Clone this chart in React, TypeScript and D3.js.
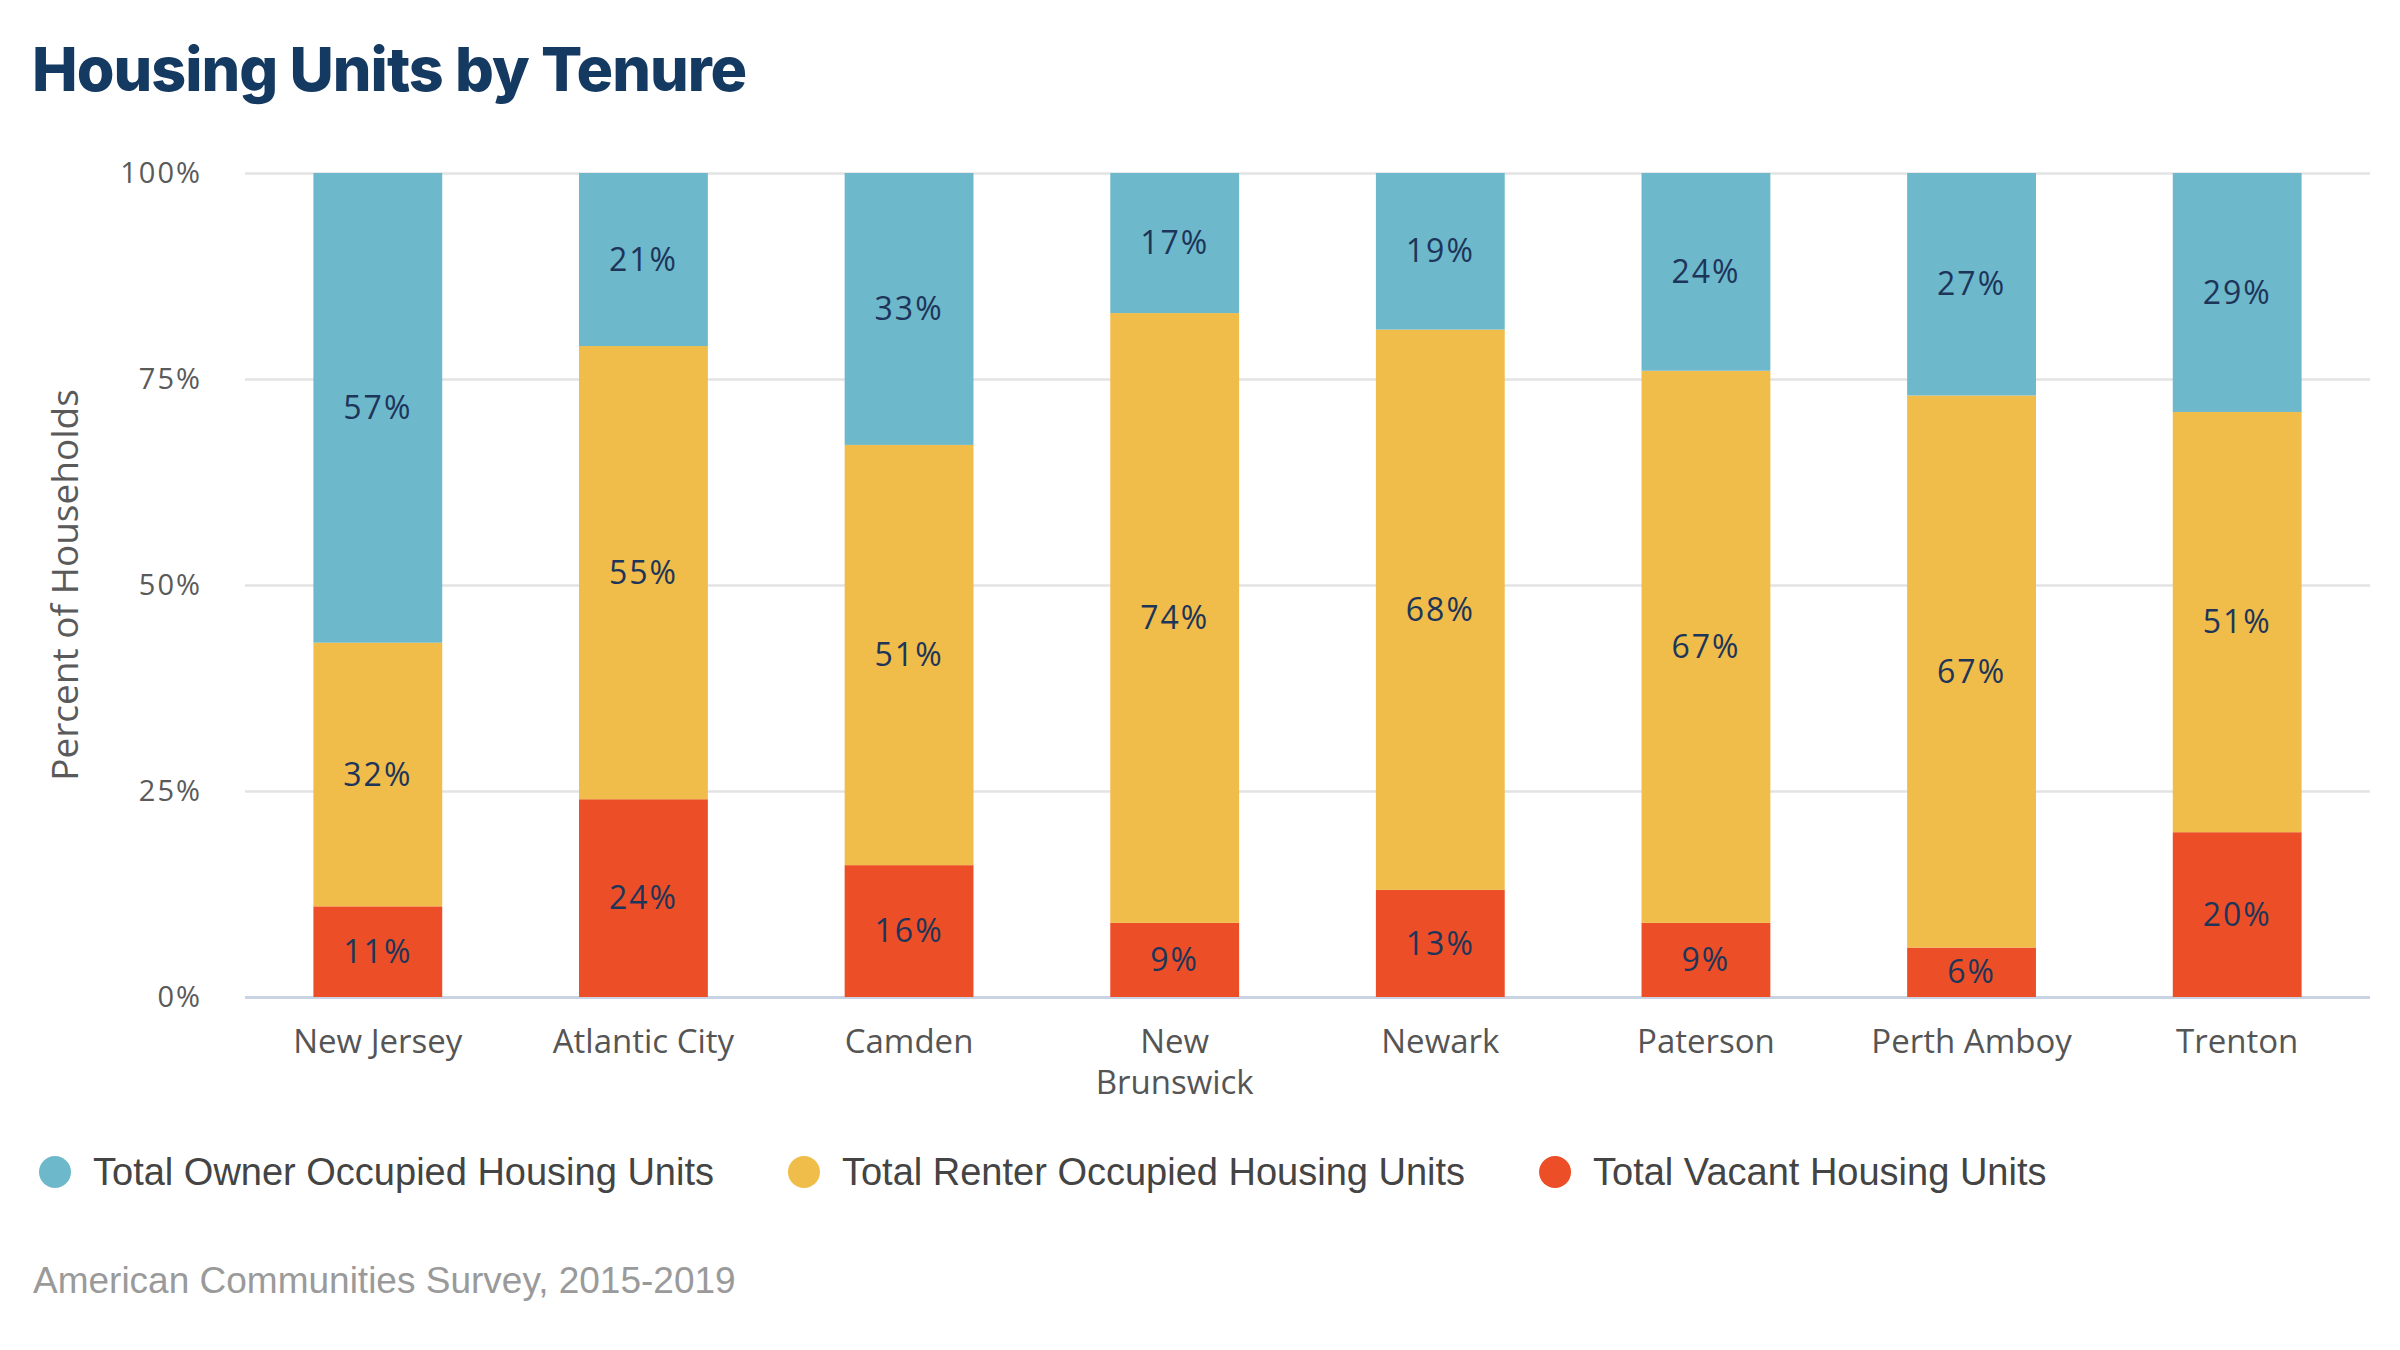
import React, { useEffect, useRef } from 'react';
import * as d3 from 'd3';

// Share of housing units by tenure, percent of all units
const categories = ['New Jersey', 'Atlantic City', 'Camden', 'New Brunswick', 'Newark', 'Paterson', 'Perth Amboy', 'Trenton'];
const categoryLines = [['New Jersey'], ['Atlantic City'], ['Camden'], ['New', 'Brunswick'], ['Newark'], ['Paterson'], ['Perth Amboy'], ['Trenton']];
const vacant = [11, 24, 16, 9, 13, 9, 6, 20];
const renter = [32, 55, 51, 74, 68, 67, 67, 51];
const owner = [57, 21, 33, 17, 19, 24, 27, 29];
const seriesKeys = ['vacant', 'renter', 'owner'];
const legendKeys = ['owner', 'renter', 'vacant'];
const seriesNames: Record<string, string> = {
  owner: 'Total Owner Occupied Housing Units',
  renter: 'Total Renter Occupied Housing Units',
  vacant: 'Total Vacant Housing Units',
};
const yTicks = [0, 25, 50, 75, 100];

const colors: Record<string, string> = {
  owner: '#6eb8cc',
  renter: '#f0bc4a',
  vacant: '#ec4f27',
};

const W = 2400;
const H = 1350;

const App: React.FC = () => {
  const svgRef = useRef<SVGSVGElement | null>(null);

  useEffect(() => {
    if (!svgRef.current) return;
    const svg = d3.select(svgRef.current);
    svg.selectAll('*').remove();

    const plot = { left: 245, right: 2370, top: 173, bottom: 997 };

    const rows = categories.map((c, i) => ({ category: c, vacant: vacant[i], renter: renter[i], owner: owner[i] }));
    const stacked = d3.stack<any>().keys(seriesKeys)(rows);

    const x = d3.scaleBand<string>()
      .domain(categories)
      .range([plot.left, plot.right])
      .paddingInner(0.515)
      .paddingOuter(0.2575);

    const y = d3.scaleLinear().domain([0, 100]).range([plot.bottom, plot.top]);

    // Title
    svg.append('text')
      .attr('x', 32)
      .attr('y', 91)
      .text('Housing Units by Tenure')
      .attr('fill', '#153a62')
      .style('font-family', 'Inter, Lato, sans-serif')
      .style('font-weight', 800)
      .style('font-size', '61px')
      .style('letter-spacing', '-1px');

    // Gridlines + y tick labels
    const yAxis = d3.axisLeft(y)
      .tickValues(yTicks)
      .tickFormat(d => `${d}%`)
      .tickSize(-(plot.right - plot.left))
      .tickPadding(43);

    const yg = svg.append('g')
      .attr('transform', `translate(${plot.left},0)`)
      .call(yAxis);
    yg.select('.domain').remove();
    yg.selectAll('.tick line')
      .attr('stroke', (d: any) => (d === 0 ? '#c9d3e4' : '#e3e3e3'))
      .attr('stroke-width', (d: any) => (d === 0 ? 3 : 2.5));
    yg.selectAll('.tick text')
      .attr('fill', '#5a5a5a')
      .style('font-family', '"Open Sans", sans-serif')
      .style('font-size', '29px')
      .style('letter-spacing', '2px');

    // Y title
    svg.append('text')
      .attr('transform', `translate(78,${(plot.top + plot.bottom) / 2}) rotate(-90)`)
      .attr('text-anchor', 'middle')
      .text('Percent of Households')
      .attr('fill', '#5a5a5a')
      .style('font-family', '"Open Sans", sans-serif')
      .style('font-size', '37px');

    // Stacked bars
    const layers = svg.append('g')
      .selectAll('g.layer')
      .data(stacked)
      .enter()
      .append('g')
      .attr('class', 'layer')
      .attr('fill', d => colors[d.key]);

    layers.selectAll('rect')
      .data(d => d)
      .enter()
      .append('rect')
      .attr('x', d => x(d.data.category) as number)
      .attr('width', x.bandwidth())
      .attr('y', d => y(d[1]))
      .attr('height', d => y(d[0]) - y(d[1]));

    layers.selectAll('text')
      .data(d => d.map(v => ({ v, key: d.key })))
      .enter()
      .append('text')
      .attr('x', d => (x(d.v.data.category) as number) + x.bandwidth() / 2)
      .attr('y', d => (y(d.v[0]) + y(d.v[1])) / 2)
      .attr('dy', '0.35em')
      .attr('text-anchor', 'middle')
      .attr('fill', '#1d3559')
      .text(d => `${d.v.data[d.key]}%`)
      .style('font-family', '"Open Sans", sans-serif')
      .style('font-size', '32px')
      .style('letter-spacing', '2px');

    // Category labels
    const xg = svg.append('g');
    categories.forEach((c, i) => {
      const t = xg.append('text')
        .attr('x', (x(c) as number) + x.bandwidth() / 2)
        .attr('y', 1041)
        .attr('text-anchor', 'middle')
        .attr('fill', '#555')
        .style('font-family', '"Open Sans", sans-serif')
        .style('font-size', '33px');
      categoryLines[i].forEach((line, j) => {
        t.append('tspan')
          .attr('x', (x(c) as number) + x.bandwidth() / 2)
          .attr('dy', j === 0 ? '0.35em' : '41px')
          .text(line);
      });
    });

    // Legend
    const legend = svg.append('g').attr('transform', 'translate(0,1172)');
    let cx = 55;
    legendKeys.forEach(k => {
      legend.append('circle')
        .attr('cx', cx)
        .attr('cy', 0)
        .attr('r', 16)
        .attr('fill', colors[k]);
      const t = legend.append('text')
        .attr('x', cx + 38)
        .attr('y', 0)
        .attr('dy', '0.35em')
        .attr('fill', '#444')
        .text(seriesNames[k])
        .style('font-family', '"Liberation Sans", Arial, sans-serif')
        .style('font-size', '38px');
      const w = (t.node() as SVGTextElement).getComputedTextLength();
      cx = cx + 38 + w + 90;
    });

    // Source note
    svg.append('text')
      .attr('x', 33)
      .attr('y', 1280)
      .attr('dy', '0.35em')
      .attr('fill', '#9a9a9a')
      .text('American Communities Survey, 2015-2019')
      .style('font-family', '"Liberation Sans", Arial, sans-serif')
      .style('font-size', '37px');
  }, []);

  return (
    <svg
      ref={svgRef}
      width={W}
      height={H}
      style={{ position: 'absolute', left: 0, top: 0, background: '#fff' }}
    />
  );
};

export default App;
